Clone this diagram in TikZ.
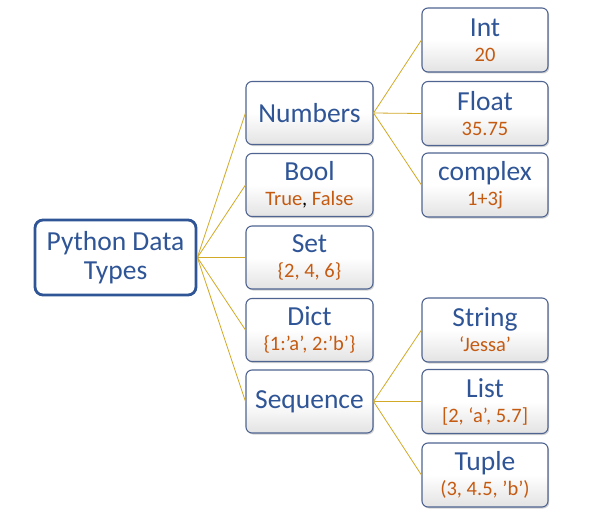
\documentclass[tikz,border=0pt]{standalone}
\usepackage{fontspec}
\setmainfont{Carlito}
\usetikzlibrary{shadows}
\definecolor{ttl}{RGB}{47,85,151}
\definecolor{val}{RGB}{197,90,17}
\definecolor{edge}{RGB}{210,170,40}
\definecolor{bord}{RGB}{80,100,145}
\newcommand{\vl}[1]{{\fontsize{20.5}{25}\selectfont\color{val}#1}}
\begin{document}
\begin{tikzpicture}[x=1pt,y=-1pt,
  box/.style={draw=bord, line width=1.1pt, rounded corners=6pt, top color=white, bottom color=black!11, middle color=white,
    drop shadow={shadow xshift=1.2pt, shadow yshift=-1.5pt, opacity=0.35},
    align=center, inner sep=0pt, text=ttl, font=\fontsize{27.5}{25}\selectfont},
  midbox/.style={box, minimum width=127pt, minimum height=63pt},
  rbox/.style={box, minimum width=126pt, minimum height=64pt},
  link/.style={draw=edge, line width=0.8pt}]
\useasboundingbox (0,0) rectangle (592,527);
\fill[white] (0,0) rectangle (592,527);
\node[draw=ttl, line width=2.8pt, rounded corners=8pt, fill=white, minimum width=161pt, minimum height=75pt,
  align=center, inner sep=0pt, text=ttl, font=\fontsize{27.5}{29}\selectfont] (root) at (115.5,257.5) {Python Data\\Types};
\node[midbox] (num) at (309.5,113) {Numbers};
\node[midbox] (bool) at (309.5,185) {Bool\\{\fontsize{20.5}{25}\selectfont\color{val}True\color{black}, \color{val}False}};
\node[midbox] (set) at (309.5,257.5) {Set\\\vl{\{2, 4, 6\}}};
\node[midbox] (dict) at (309.5,330) {Dict\\\vl{\{1:’a’, 2:’b’\}}};
\node[midbox] (seq) at (309.5,401.5) {Sequence};
\node[rbox] (int) at (485,40) {Int\\\vl{20}};
\node[rbox] (flt) at (485,113.5) {Float\\\vl{35.75}};
\node[rbox] (cpx) at (485,185) {complex\\\vl{1+3j}};
\node[rbox] (str) at (485,330) {String\\\vl{‘Jessa’}};
\node[rbox] (lst) at (485,401.5) {List\\\vl{[2, ‘a’, 5.7]}};
\node[rbox] (tup) at (485,475) {Tuple\\\vl{(3, 4.5, ’b’)}};
\foreach \m in {num,bool,set,dict,seq} \draw[link] (root.east) -- (\m.west);
\foreach \r in {int,flt,cpx} \draw[link] (num.east) -- (\r.west);
\foreach \r in {str,lst,tup} \draw[link] (seq.east) -- (\r.west);
\end{tikzpicture}
\end{document}
